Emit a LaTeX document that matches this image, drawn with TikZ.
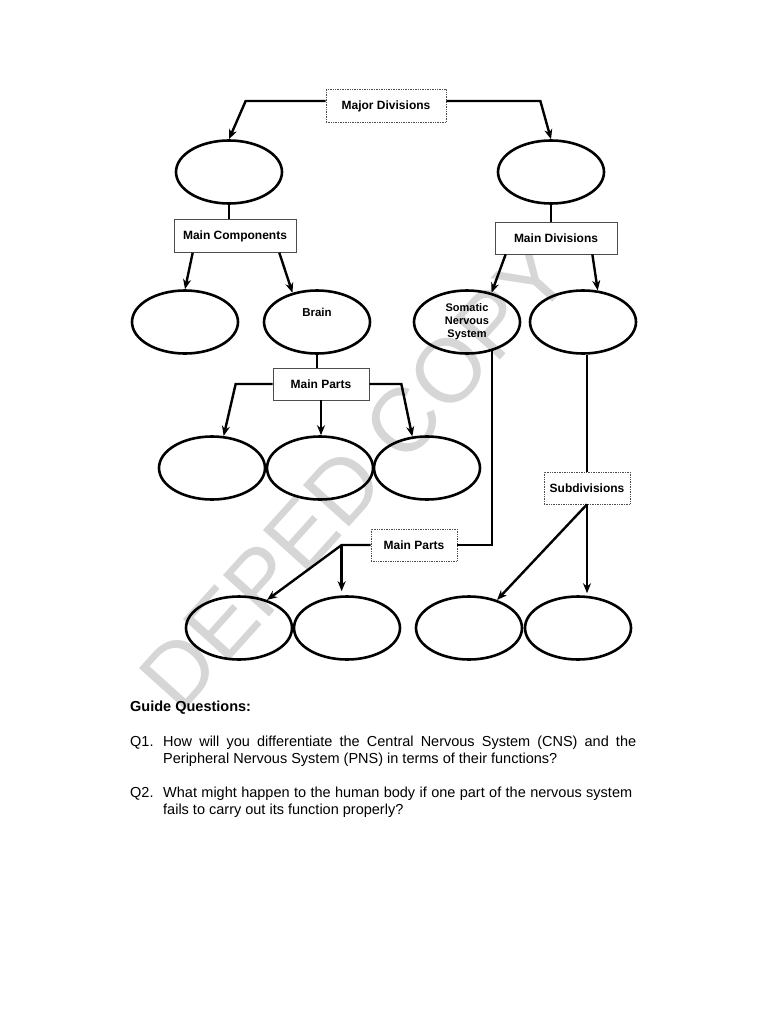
\documentclass[tikz,border=0pt]{standalone}
\usepackage{fontspec}
\setmainfont{Liberation Sans}
\usetikzlibrary{shapes.geometric,arrows.meta}
\tikzset{
  bubble/.style={draw=black, line width=2.6pt, ellipse, minimum width=106pt, minimum height=63pt, inner sep=0pt, align=center, font=\fontsize{11.5}{13}\selectfont\bfseries},
  lbl/.style={draw=black!70, line width=0.7pt, fill=white, inner sep=0pt, font=\fontsize{12}{14}\selectfont\bfseries},
  dotlbl/.style={lbl, densely dotted},
  arr/.style={line width=2.4pt, -{Stealth[length=10pt,width=8pt]}},
  ln/.style={line width=2pt},
  qtext/.style={anchor=base west, inner sep=0pt, font=\fontsize{14.5}{17}\selectfont},
}
\begin{document}
\begin{tikzpicture}[x=1pt,y=-1pt]
  \fill[white] (0,0) rectangle (768,1024);
  \useasboundingbox (0,0) rectangle (768,1024);

  \node[rotate=48, text=black!16, font=\fontsize{90}{90}\selectfont] (wm) at (355,475) {DEPED COPY};

  \node[dotlbl, minimum width=120pt, minimum height=33pt] (major) at (386,106) {Major Divisions};
  \node[bubble] (cns) at (229,172) {};
  \node[bubble] (pns) at (551,172) {};

  \node[lbl, minimum width=122pt, minimum height=33pt] (maincomp) at (235,236) {Main Components};
  \node[lbl, minimum width=122pt, minimum height=32pt] (maindiv) at (556,238) {Main Divisions};

  \node[bubble] (spinal) at (185,322) {};
  \node[bubble, text depth=19pt] (brain) at (317,322) {Brain};
  \node[bubble, font=\fontsize{11}{13}\selectfont\bfseries] (somatic) at (467,322) {Somatic\\Nervous\\System};
  \node[bubble] (autonomic) at (583,322) {};

  \node[lbl, minimum width=96pt, minimum height=32pt] (mp1) at (321,384) {Main Parts};
  \node[bubble] (partA) at (212,468) {};
  \node[bubble] (partB) at (320,468) {};
  \node[bubble] (partC) at (427,468) {};

  \node[dotlbl, minimum width=86pt, minimum height=32pt] (subdiv) at (587,488) {Subdivisions};
  \node[dotlbl, minimum width=86pt, minimum height=32pt] (mp2) at (414,545) {Main Parts};

  \node[bubble] (snsA) at (239,628) {};
  \node[bubble] (snsB) at (347,628) {};
  \node[bubble] (ansA) at (469,628) {};
  \node[bubble] (ansB) at (578,628) {};

  \draw[arr] ([yshift=5pt]major.west) -- ++(-80,0) -- (cns.north);
  \draw[arr] ([yshift=5pt]major.east) -- ++(94,0) -- (pns.north);
  \draw[ln] (cns.south) -- (cns.south |- maincomp.north);
  \draw[ln] (pns.south) -- (pns.south |- maindiv.north);
  \draw[arr] ([xshift=19pt]maincomp.south west) -- (spinal.north);
  \draw[arr] ([xshift=-17pt]maincomp.south east) -- (brain.130);
  \draw[arr] ([xshift=11pt]maindiv.south west) -- (somatic.50);
  \draw[arr] ([xshift=-25pt]maindiv.south east) -- (autonomic.65);

  \draw[ln] (brain.south) -- (brain.south |- mp1.north);
  \draw[arr] (mp1.west) -- ++(-37,0) -- (partA.70);
  \draw[arr] (mp1.south) -- (mp1.south |- partB.north);
  \draw[arr] (mp1.east) -- ++(32,0) -- (partC.115);

  \draw[ln] (somatic.-50) |- (mp2.east);
  \coordinate (mpj) at ([xshift=-29pt]mp2.west);
  \draw[arr] (mp2.west) -- (mpj) -- (snsA.45);
  \draw[arr, shorten >=4pt] (mpj) -- (mpj |- snsB.north);
  \draw[ln] (subdiv.north |- autonomic.south) -- (subdiv.north);
  \draw[arr] (subdiv.south) -- (ansA.45);
  \draw[arr, shorten >=2pt] (subdiv.south) -- (subdiv.south |- ansB.north);

  \node[qtext, font=\fontsize{14.5}{17}\selectfont\bfseries] (guide) at (130,711) {Guide Questions:};
  \node[qtext] (q1) at (130,746) {Q1.};
  \node[qtext] (q1a) at (163,746) {\makebox[473pt][s]{How will you differentiate the Central Nervous System (CNS) and the}};
  \node[qtext] (q1b) at (163,763) {Peripheral Nervous System (PNS) in terms of their functions?};
  \node[qtext] (q2) at (130,797) {Q2.};
  \node[qtext] (q2a) at (163,797) {\makebox[469pt][s]{What might happen to the human body if one part of the nervous system}};
  \node[qtext] (q2b) at (163,814) {fails to carry out its function properly?};
\end{tikzpicture}
\end{document}
